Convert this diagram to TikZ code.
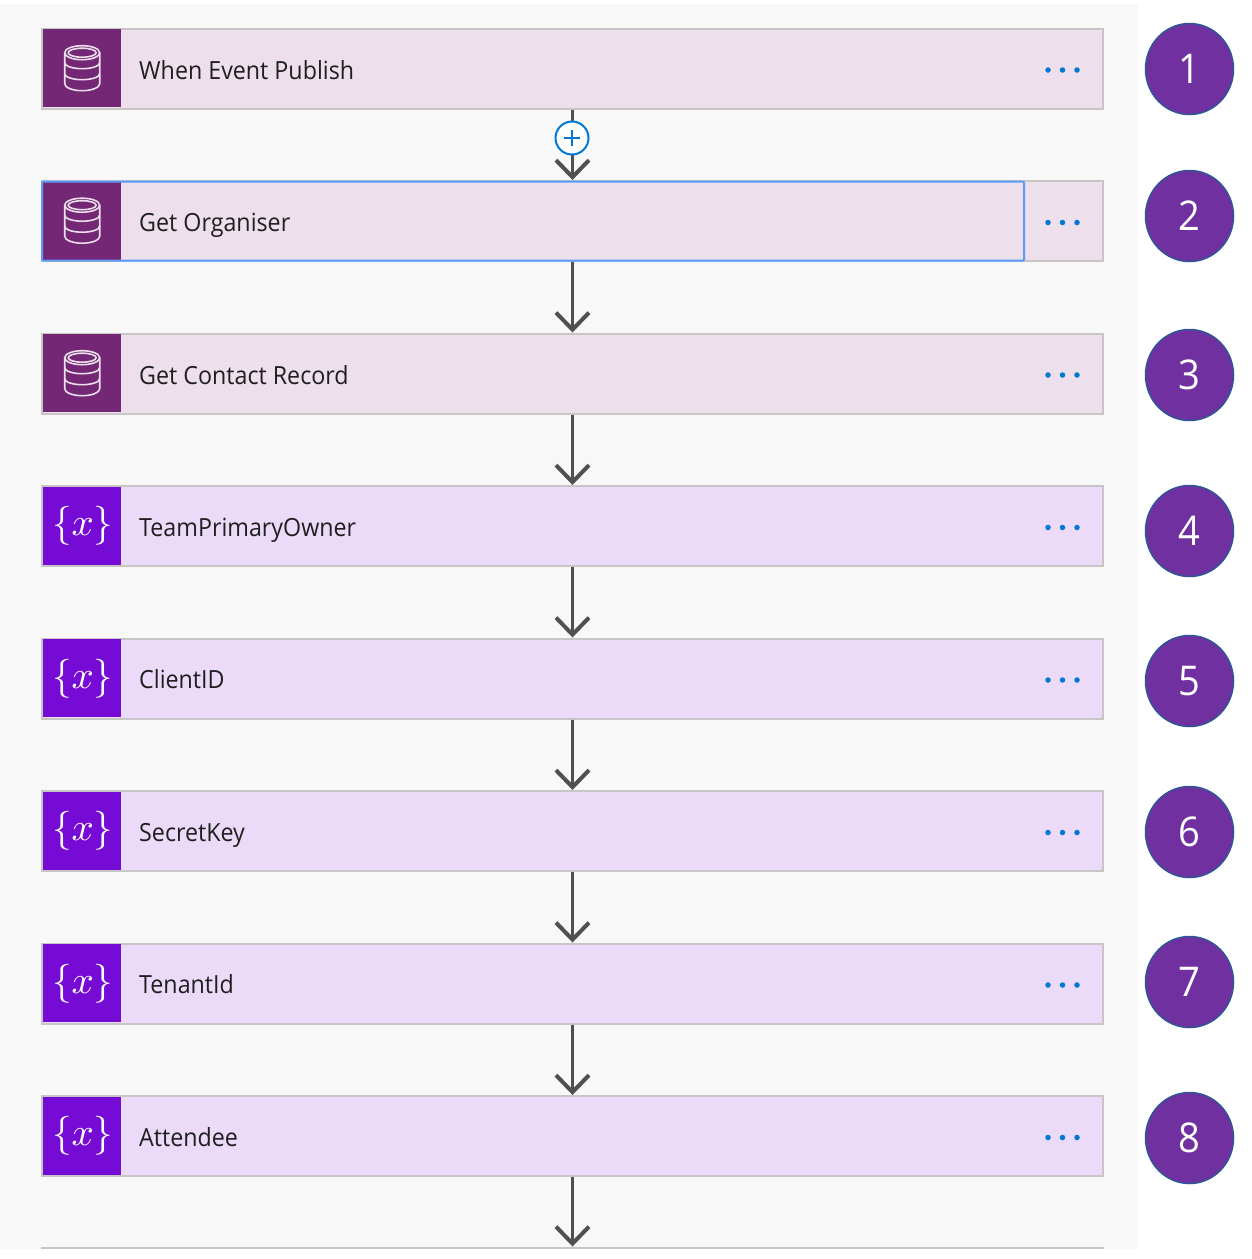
\documentclass[tikz,border=0pt]{standalone}
\usepackage{fontspec}
\setmainfont[FakeStretch=0.93]{Open Sans}
\usetikzlibrary{arrows.meta,calc,shapes.geometric}
\definecolor{panel}{HTML}{F8F8F8}
\definecolor{edge}{HTML}{C8C6C4}
\definecolor{dbfill}{HTML}{EDE0EC}
\definecolor{dbicon}{HTML}{742774}
\definecolor{varfill}{HTML}{EBDAF8}
\definecolor{varicon}{HTML}{770BD6}
\definecolor{azure}{HTML}{0078D4}
\definecolor{sel}{HTML}{5B9BF8}
\definecolor{wire}{HTML}{505050}
\definecolor{badge}{HTML}{7030A0}
\definecolor{badgeedge}{HTML}{2F5597}
\definecolor{ink}{HTML}{1F1F1F}
\tikzset{
  x=1pt,y=-1pt,
  stepbox/.style={draw=edge,line width=2pt,minimum width=1061pt,minimum height=80pt,inner sep=0pt,anchor=north west},
  dbbox/.style={stepbox,fill=dbfill},
  varbox/.style={stepbox,fill=varfill},
  iconbox/.style={minimum width=78pt,minimum height=78pt,inner sep=0pt,anchor=north west},
  steplabel/.style={anchor=base west,inner sep=0pt,text=ink,font=\fontsize{25}{29}\selectfont},
  dot/.style={circle,fill=azure,minimum size=5.5pt,inner sep=0pt},
  numbadge/.style={ellipse,fill=badge,draw=badgeedge,line width=1.5pt,minimum width=88pt,minimum height=91pt,inner sep=0pt,text=white,font=\fontsize{41}{46}\selectfont},
  flow/.style={draw=wire,line width=3pt,-{Straight Barb[length=17pt,width=33pt,line width=4pt]}},
  varmark/.style={text=white,inner sep=0pt},
  dbicon line/.style={draw=white!85!dbicon,line width=1.6pt,fill=none},
  pics/cyl/.style={code={
    \draw[dbicon line] (0,-15) ellipse[x radius=17.5,y radius=7];
    \draw[dbicon line] (0,-15) ellipse[x radius=14,y radius=4.5];
    \draw[dbicon line] (-17.5,-15) -- (-17.5,16) arc[start angle=180,end angle=0,x radius=17.5,y radius=7] -- (17.5,-15);
    \draw[dbicon line] (-17.5,-5) arc[start angle=180,end angle=0,x radius=17.5,y radius=6];
    \draw[dbicon line] (-17.5,6) arc[start angle=180,end angle=0,x radius=17.5,y radius=6];
  }}
}
\newcommand{\varglyph}{\scalebox{3.9}{$\{x\}$}}
\newcommand{\badgenum}[1]{\raisebox{-1pt}{#1}}
\begin{document}
\begin{tikzpicture}
\useasboundingbox (0,0) rectangle (1252,1259);
\fill[white] (0,0) rectangle (1252,1259);
\fill[panel] (0,4) rectangle (1138,1249);

% step boxes
\node[dbbox] (b1) at (41,27.5) {};
\node[dbbox] (b2) at (41,180) {};
\node[dbbox] (b3) at (41,332.5) {};
\node[varbox] (b4) at (41,485) {};
\node[varbox] (b5) at (41,637.5) {};
\node[varbox] (b6) at (41,790) {};
\node[varbox] (b7) at (41,942.5) {};
\node[varbox] (b8) at (41,1095) {};
\node[fill=edge,minimum width=1063pt,minimum height=2pt,inner sep=0pt,anchor=north west] (b9) at (41,1246.5) {};

% icon squares
\node[iconbox,fill=dbicon] (i1) at (43,29) {};
\node[iconbox,fill=dbicon] (i2) at (43,181.5) {};
\node[iconbox,fill=dbicon] (i3) at (43,334) {};
\node[iconbox,fill=varicon] (i4) at (43,486.5) {};
\node[iconbox,fill=varicon] (i5) at (43,639) {};
\node[iconbox,fill=varicon] (i6) at (43,791.5) {};
\node[iconbox,fill=varicon] (i7) at (43,944) {};
\node[iconbox,fill=varicon] (i8) at (43,1096.5) {};

\pic at ($(i1.center)+(0,-0.5)$) {cyl};
\pic at ($(i2.center)+(0,-0.5)$) {cyl};
\pic at ($(i3.center)+(0,-0.5)$) {cyl};
\node[varmark] (x4) at ($(i4.center)+(0.5,0.5)$) {\varglyph};
\node[varmark] (x5) at ($(i5.center)+(0.5,0.5)$) {\varglyph};
\node[varmark] (x6) at ($(i6.center)+(0.5,0.5)$) {\varglyph};
\node[varmark] (x7) at ($(i7.center)+(0.5,0.5)$) {\varglyph};
\node[varmark] (x8) at ($(i8.center)+(0.5,0.5)$) {\varglyph};

% selection outline on step 2
\draw[sel,line width=2pt,rounded corners=1pt] (42,181.5) rectangle (1024,260.5);

% labels
\node[steplabel] (t1) at (139,79) {When Event Publish};
\node[steplabel] (t2) at (139,231) {Get Organiser};
\node[steplabel] (t3) at (139,384) {Get Contact Record};
\node[steplabel] (t4) at (139,536) {TeamPrimaryOwner};
\node[steplabel] (t5) at (139,688) {ClientID};
\node[steplabel] (t6) at (139,841) {SecretKey};
\node[steplabel] (t7) at (139,993) {TenantId};
\node[steplabel] (t8) at (139,1146) {Attendee};

% three-dot menus
\foreach \n in {1,...,8}{
  \node[dot] (d\n a) at ($(b\n.east)+(-56,1.5)$) {};
  \node[dot] (d\n b) at ($(b\n.east)+(-41.5,1.5)$) {};
  \node[dot] (d\n c) at ($(b\n.east)+(-27,1.5)$) {};
}

% connectors
\foreach \a/\b in {1/2,2/3,3/4,4/5,5/6,6/7,7/8,8/9}{
  \draw[flow] (b\a.south) -- (b\a.south |- b\b.north);
}

% insert button
\node[circle,fill=white,draw=azure,line width=2pt,minimum size=33pt,inner sep=0pt] (plus) at (572,138) {};
\draw[azure,line width=2pt] ($(plus.center)+(-8,0)$) -- ($(plus.center)+(8,0)$);
\draw[azure,line width=2pt] ($(plus.center)+(0,-8)$) -- ($(plus.center)+(0,8)$);

% number badges
\node[numbadge] (n1) at (1189.5,69) {\badgenum{1}};
\node[numbadge] (n2) at (1189.5,216) {\badgenum{2}};
\node[numbadge] (n3) at (1189.5,375) {\badgenum{3}};
\node[numbadge] (n4) at (1189.5,531) {\badgenum{4}};
\node[numbadge] (n5) at (1189.5,681) {\badgenum{5}};
\node[numbadge] (n6) at (1189.5,832) {\badgenum{6}};
\node[numbadge] (n7) at (1189.5,982) {\badgenum{7}};
\node[numbadge] (n8) at (1189.5,1138) {\badgenum{8}};
\end{tikzpicture}
\end{document}
